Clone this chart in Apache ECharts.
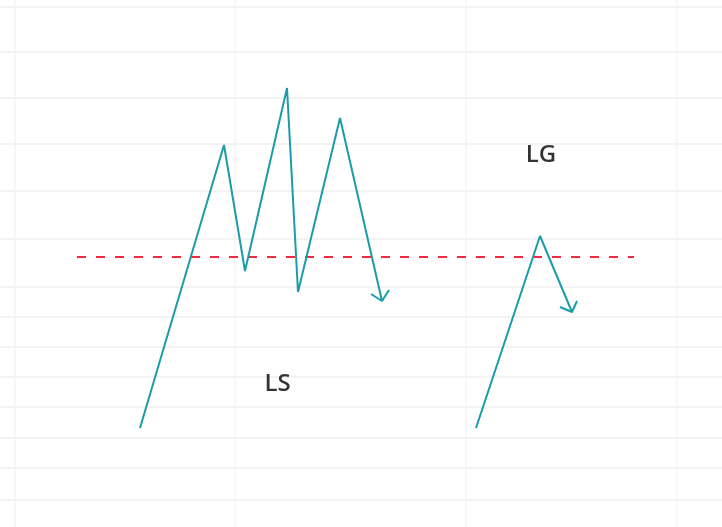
<!DOCTYPE html>
<html>
<head>
<meta charset="utf-8">
<script src="https://cdn.jsdelivr.net/npm/echarts@6/dist/echarts.min.js"></script>
<style>
html,body{margin:0;padding:0;background:#fff;}
#main{width:722px;height:527px;}
</style>
</head>
<body>
<div id="main"></div>
<script>
// 第一段走势 (时间, 价格)
var lsPath = [[14.0, 9.9], [22.4, 38.2], [24.5, 25.6], [28.7, 43.9], [29.8, 23.5], [34.0, 40.9], [38.2, 22.6]];
var lsArrow = [[37.1, 23.3], [38.2, 22.6], [38.9, 23.7]];
// 第二段走势
var lgPath = [[47.6, 9.9], [54.0, 29.1], [57.2, 21.5]];
var lgArrow = [[56.0, 22.0], [57.2, 21.5], [57.7, 22.6]];
// 红色虚线 水平位
var levelY = 27.0;
var levelX = [7.7, 63.4];
// 标注
var labels = [
	{name: 'LS', value: [27.8, 14.25]},
	{name: 'LG', value: [54.15, 37.15]}
];
// 背景格子
var gridY = [52.05, 47.5, 42.95, 38.3, 33.6, 28.8, 24.0, 21.0, 18.0, 15.0, 12.0, 8.9, 5.9, 2.7];
var gridX = [1.43, 23.5, 46.6, 67.7];

var myChart = echarts.init(document.getElementById('main'));

var gridLines = [];
var i;
for (i = 0; i < gridY.length; i++) gridLines.push({yAxis: gridY[i]});
for (i = 0; i < gridX.length; i++) gridLines.push({xAxis: gridX[i], lineStyle: {color: '#f4f4f4'}});

var teal = '#1a9cab';
function lineSeries(data){
	return {
		type: 'line',
		data: data,
		symbol: 'none',
		silent: true,
		lineStyle: {color: teal, width: 2},
		z: 10
	};
}

option = {
	backgroundColor: '#ffffff',
	animation: false,
	grid: {left: 0, right: 0, top: 0, bottom: 0},
	xAxis: {
		type: 'value', min: 0, max: 72.2,
		show: false, splitLine: {show: false}
	},
	yAxis: {
		type: 'value', min: 0, max: 52.7,
		show: false, splitLine: {show: false}
	},
	series: [
		{
			type: 'line',
			data: [],
			silent: true,
			z: 1,
			markLine: {
				silent: true,
				z: 1,
				symbol: 'none',
				label: {show: false},
				lineStyle: {color: '#efefef', width: 1.5, type: 'solid'},
				data: gridLines
			}
		},
		{
			type: 'line',
			data: [[levelX[0], levelY], [levelX[1], levelY]],
			symbol: 'none',
			silent: true,
			lineStyle: {color: '#f2293f', width: 2, type: [9, 10]},
			z: 5
		},
		lineSeries(lsPath),
		lineSeries(lsArrow),
		lineSeries(lgPath),
		lineSeries(lgArrow),
		{
			type: 'scatter',
			data: labels,
			symbolSize: 1,
			itemStyle: {color: 'rgba(0,0,0,0)'},
			silent: true,
			label: {
				show: true,
				position: [0, 0],
				align: 'center',
				verticalAlign: 'middle',
				formatter: '{b}',
				color: '#000000',
				fontSize: 24,
				fontWeight: 600,
				fontFamily: 'Open Sans'
			},
			z: 12
		}
	]
};

myChart.setOption(option, true);
</script>
</body>
</html>
